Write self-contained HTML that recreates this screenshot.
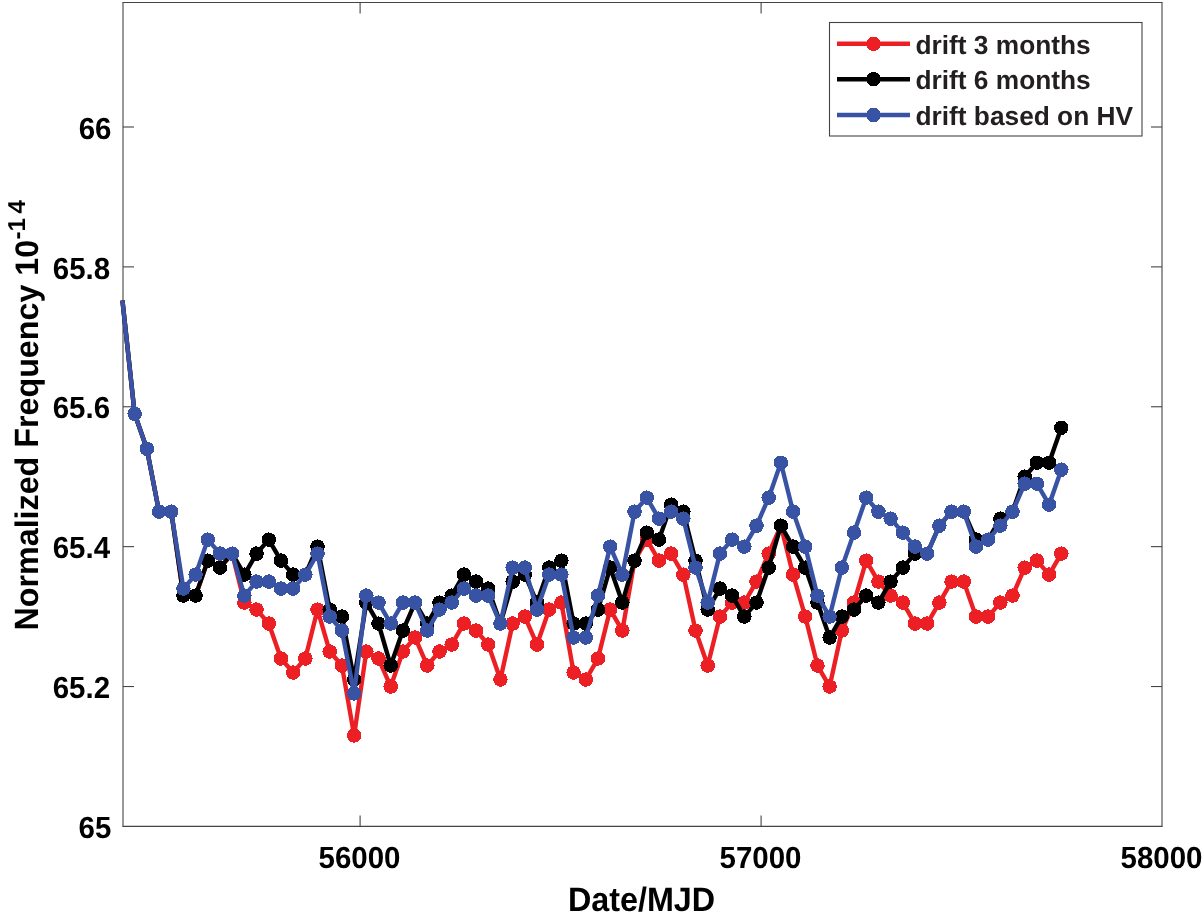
<!DOCTYPE html>
<html><head><meta charset="utf-8"><title>Normalized Frequency vs Date/MJD</title>
<style>
html,body{margin:0;padding:0;background:#fff;}
body{width:1204px;height:920px;overflow:hidden;}
svg{display:block;}
text{font-family:"Liberation Sans",Arial,Helvetica,sans-serif;font-weight:bold;text-rendering:geometricPrecision;}
</style></head><body>
<svg width="1204" height="920" viewBox="0 0 1204 920">
<rect width="1204" height="920" fill="#fff"/>
<g stroke="#444444" stroke-width="1.1" fill="none"><line x1="122.5" y1="2.5" x2="1162.5" y2="2.5"/><line x1="122.5" y1="826.4" x2="1162.5" y2="826.4"/><line x1="123.0" y1="2.5" x2="123.0" y2="826.4"/><line x1="1162.0" y1="2.5" x2="1162.0" y2="826.4"/><line x1="123.0" y1="686.52" x2="134.0" y2="686.52"/><line x1="1162.0" y1="686.52" x2="1151.0" y2="686.52"/><line x1="123.0" y1="546.64" x2="134.0" y2="546.64"/><line x1="1162.0" y1="546.64" x2="1151.0" y2="546.64"/><line x1="123.0" y1="406.76" x2="134.0" y2="406.76"/><line x1="1162.0" y1="406.76" x2="1151.0" y2="406.76"/><line x1="123.0" y1="266.88" x2="134.0" y2="266.88"/><line x1="1162.0" y1="266.88" x2="1151.0" y2="266.88"/><line x1="123.0" y1="127.00" x2="134.0" y2="127.00"/><line x1="1162.0" y1="127.00" x2="1151.0" y2="127.00"/><line x1="360.1" y1="826.4" x2="360.1" y2="815.4"/><line x1="360.1" y1="2.5" x2="360.1" y2="13.5"/><line x1="761.1" y1="826.4" x2="761.1" y2="815.4"/><line x1="761.1" y1="2.5" x2="761.1" y2="13.5"/></g>
<defs><clipPath id="ax"><rect x="118.0" y="2.5" width="1044.0" height="823.9"/></clipPath></defs>
<g clip-path="url(#ax)">
<polyline points="122.45,300.45 134.64,413.75 146.84,448.72 159.03,511.67 171.22,511.67 183.41,595.60 195.61,595.60 207.80,560.63 219.99,567.62 232.19,553.63 244.38,602.59 256.57,609.59 268.77,623.57 280.96,658.54 293.15,672.53 305.34,658.54 317.54,609.59 329.73,651.55 341.92,665.54 354.12,735.48 366.31,651.55 378.50,658.54 390.70,686.52 402.89,651.55 415.08,637.56 427.27,665.54 439.47,651.55 451.66,644.56 463.85,623.57 476.05,630.57 488.24,644.56 500.43,679.53 512.63,623.57 524.82,616.58 537.01,644.56 549.21,609.59 561.40,602.59 573.59,672.53 585.78,679.53 597.98,658.54 610.17,609.59 622.36,630.57 634.56,560.63 646.75,539.65 658.94,560.63 671.13,553.63 683.33,574.62 695.52,630.57 707.71,665.54 719.91,616.58 732.10,602.59 744.29,602.59 756.49,581.61 768.68,553.63 780.87,525.66 793.07,574.62 805.26,616.58 817.45,665.54 829.64,686.52 841.84,630.57 854.03,602.59 866.22,560.63 878.42,581.61 890.61,595.60 902.80,602.59 915.00,623.57 927.19,623.57 939.38,602.59 951.57,581.61 963.77,581.61 975.96,616.58 988.15,616.58 1000.35,602.59 1012.54,595.60 1024.73,567.62 1036.92,560.63 1049.12,574.62 1061.31,553.63" fill="none" stroke="#EC2024" stroke-width="4.4" stroke-linejoin="round"/>
<g fill="#EC2024" shape-rendering="crispEdges"><circle cx="134.64" cy="413.75" r="7.25"/><circle cx="146.84" cy="448.72" r="7.25"/><circle cx="159.03" cy="511.67" r="7.25"/><circle cx="171.22" cy="511.67" r="7.25"/><circle cx="183.41" cy="595.60" r="7.25"/><circle cx="195.61" cy="595.60" r="7.25"/><circle cx="207.80" cy="560.63" r="7.25"/><circle cx="219.99" cy="567.62" r="7.25"/><circle cx="232.19" cy="553.63" r="7.25"/><circle cx="244.38" cy="602.59" r="7.25"/><circle cx="256.57" cy="609.59" r="7.25"/><circle cx="268.77" cy="623.57" r="7.25"/><circle cx="280.96" cy="658.54" r="7.25"/><circle cx="293.15" cy="672.53" r="7.25"/><circle cx="305.34" cy="658.54" r="7.25"/><circle cx="317.54" cy="609.59" r="7.25"/><circle cx="329.73" cy="651.55" r="7.25"/><circle cx="341.92" cy="665.54" r="7.25"/><circle cx="354.12" cy="735.48" r="7.25"/><circle cx="366.31" cy="651.55" r="7.25"/><circle cx="378.50" cy="658.54" r="7.25"/><circle cx="390.70" cy="686.52" r="7.25"/><circle cx="402.89" cy="651.55" r="7.25"/><circle cx="415.08" cy="637.56" r="7.25"/><circle cx="427.27" cy="665.54" r="7.25"/><circle cx="439.47" cy="651.55" r="7.25"/><circle cx="451.66" cy="644.56" r="7.25"/><circle cx="463.85" cy="623.57" r="7.25"/><circle cx="476.05" cy="630.57" r="7.25"/><circle cx="488.24" cy="644.56" r="7.25"/><circle cx="500.43" cy="679.53" r="7.25"/><circle cx="512.63" cy="623.57" r="7.25"/><circle cx="524.82" cy="616.58" r="7.25"/><circle cx="537.01" cy="644.56" r="7.25"/><circle cx="549.21" cy="609.59" r="7.25"/><circle cx="561.40" cy="602.59" r="7.25"/><circle cx="573.59" cy="672.53" r="7.25"/><circle cx="585.78" cy="679.53" r="7.25"/><circle cx="597.98" cy="658.54" r="7.25"/><circle cx="610.17" cy="609.59" r="7.25"/><circle cx="622.36" cy="630.57" r="7.25"/><circle cx="634.56" cy="560.63" r="7.25"/><circle cx="646.75" cy="539.65" r="7.25"/><circle cx="658.94" cy="560.63" r="7.25"/><circle cx="671.13" cy="553.63" r="7.25"/><circle cx="683.33" cy="574.62" r="7.25"/><circle cx="695.52" cy="630.57" r="7.25"/><circle cx="707.71" cy="665.54" r="7.25"/><circle cx="719.91" cy="616.58" r="7.25"/><circle cx="732.10" cy="602.59" r="7.25"/><circle cx="744.29" cy="602.59" r="7.25"/><circle cx="756.49" cy="581.61" r="7.25"/><circle cx="768.68" cy="553.63" r="7.25"/><circle cx="780.87" cy="525.66" r="7.25"/><circle cx="793.07" cy="574.62" r="7.25"/><circle cx="805.26" cy="616.58" r="7.25"/><circle cx="817.45" cy="665.54" r="7.25"/><circle cx="829.64" cy="686.52" r="7.25"/><circle cx="841.84" cy="630.57" r="7.25"/><circle cx="854.03" cy="602.59" r="7.25"/><circle cx="866.22" cy="560.63" r="7.25"/><circle cx="878.42" cy="581.61" r="7.25"/><circle cx="890.61" cy="595.60" r="7.25"/><circle cx="902.80" cy="602.59" r="7.25"/><circle cx="915.00" cy="623.57" r="7.25"/><circle cx="927.19" cy="623.57" r="7.25"/><circle cx="939.38" cy="602.59" r="7.25"/><circle cx="951.57" cy="581.61" r="7.25"/><circle cx="963.77" cy="581.61" r="7.25"/><circle cx="975.96" cy="616.58" r="7.25"/><circle cx="988.15" cy="616.58" r="7.25"/><circle cx="1000.35" cy="602.59" r="7.25"/><circle cx="1012.54" cy="595.60" r="7.25"/><circle cx="1024.73" cy="567.62" r="7.25"/><circle cx="1036.92" cy="560.63" r="7.25"/><circle cx="1049.12" cy="574.62" r="7.25"/><circle cx="1061.31" cy="553.63" r="7.25"/></g>
<polyline points="122.45,300.45 134.64,413.75 146.84,448.72 159.03,511.67 171.22,511.67 183.41,595.60 195.61,595.60 207.80,560.63 219.99,567.62 232.19,553.63 244.38,574.62 256.57,553.63 268.77,539.65 280.96,560.63 293.15,574.62 305.34,574.62 317.54,546.64 329.73,609.59 341.92,616.58 354.12,679.53 366.31,602.59 378.50,623.57 390.70,665.54 402.89,630.57 415.08,602.59 427.27,623.57 439.47,602.59 451.66,595.60 463.85,574.62 476.05,581.61 488.24,588.60 500.43,623.57 512.63,581.61 524.82,574.62 537.01,602.59 549.21,567.62 561.40,560.63 573.59,623.57 585.78,623.57 597.98,609.59 610.17,567.62 622.36,602.59 634.56,560.63 646.75,532.65 658.94,539.65 671.13,504.68 683.33,511.67 695.52,560.63 707.71,609.59 719.91,588.60 732.10,595.60 744.29,616.58 756.49,602.59 768.68,567.62 780.87,525.66 793.07,546.64 805.26,567.62 817.45,602.59 829.64,637.56 841.84,616.58 854.03,609.59 866.22,595.60 878.42,602.59 890.61,581.61 902.80,567.62 915.00,553.63 927.19,553.63 939.38,525.66 951.57,511.67 963.77,511.67 975.96,539.65 988.15,539.65 1000.35,518.66 1012.54,511.67 1024.73,476.70 1036.92,462.71 1049.12,462.71 1061.31,427.74" fill="none" stroke="#000000" stroke-width="4.4" stroke-linejoin="round"/>
<g fill="#000000" shape-rendering="crispEdges"><circle cx="134.64" cy="413.75" r="7.25"/><circle cx="146.84" cy="448.72" r="7.25"/><circle cx="159.03" cy="511.67" r="7.25"/><circle cx="171.22" cy="511.67" r="7.25"/><circle cx="183.41" cy="595.60" r="7.25"/><circle cx="195.61" cy="595.60" r="7.25"/><circle cx="207.80" cy="560.63" r="7.25"/><circle cx="219.99" cy="567.62" r="7.25"/><circle cx="232.19" cy="553.63" r="7.25"/><circle cx="244.38" cy="574.62" r="7.25"/><circle cx="256.57" cy="553.63" r="7.25"/><circle cx="268.77" cy="539.65" r="7.25"/><circle cx="280.96" cy="560.63" r="7.25"/><circle cx="293.15" cy="574.62" r="7.25"/><circle cx="305.34" cy="574.62" r="7.25"/><circle cx="317.54" cy="546.64" r="7.25"/><circle cx="329.73" cy="609.59" r="7.25"/><circle cx="341.92" cy="616.58" r="7.25"/><circle cx="354.12" cy="679.53" r="7.25"/><circle cx="366.31" cy="602.59" r="7.25"/><circle cx="378.50" cy="623.57" r="7.25"/><circle cx="390.70" cy="665.54" r="7.25"/><circle cx="402.89" cy="630.57" r="7.25"/><circle cx="415.08" cy="602.59" r="7.25"/><circle cx="427.27" cy="623.57" r="7.25"/><circle cx="439.47" cy="602.59" r="7.25"/><circle cx="451.66" cy="595.60" r="7.25"/><circle cx="463.85" cy="574.62" r="7.25"/><circle cx="476.05" cy="581.61" r="7.25"/><circle cx="488.24" cy="588.60" r="7.25"/><circle cx="500.43" cy="623.57" r="7.25"/><circle cx="512.63" cy="581.61" r="7.25"/><circle cx="524.82" cy="574.62" r="7.25"/><circle cx="537.01" cy="602.59" r="7.25"/><circle cx="549.21" cy="567.62" r="7.25"/><circle cx="561.40" cy="560.63" r="7.25"/><circle cx="573.59" cy="623.57" r="7.25"/><circle cx="585.78" cy="623.57" r="7.25"/><circle cx="597.98" cy="609.59" r="7.25"/><circle cx="610.17" cy="567.62" r="7.25"/><circle cx="622.36" cy="602.59" r="7.25"/><circle cx="634.56" cy="560.63" r="7.25"/><circle cx="646.75" cy="532.65" r="7.25"/><circle cx="658.94" cy="539.65" r="7.25"/><circle cx="671.13" cy="504.68" r="7.25"/><circle cx="683.33" cy="511.67" r="7.25"/><circle cx="695.52" cy="560.63" r="7.25"/><circle cx="707.71" cy="609.59" r="7.25"/><circle cx="719.91" cy="588.60" r="7.25"/><circle cx="732.10" cy="595.60" r="7.25"/><circle cx="744.29" cy="616.58" r="7.25"/><circle cx="756.49" cy="602.59" r="7.25"/><circle cx="768.68" cy="567.62" r="7.25"/><circle cx="780.87" cy="525.66" r="7.25"/><circle cx="793.07" cy="546.64" r="7.25"/><circle cx="805.26" cy="567.62" r="7.25"/><circle cx="817.45" cy="602.59" r="7.25"/><circle cx="829.64" cy="637.56" r="7.25"/><circle cx="841.84" cy="616.58" r="7.25"/><circle cx="854.03" cy="609.59" r="7.25"/><circle cx="866.22" cy="595.60" r="7.25"/><circle cx="878.42" cy="602.59" r="7.25"/><circle cx="890.61" cy="581.61" r="7.25"/><circle cx="902.80" cy="567.62" r="7.25"/><circle cx="915.00" cy="553.63" r="7.25"/><circle cx="927.19" cy="553.63" r="7.25"/><circle cx="939.38" cy="525.66" r="7.25"/><circle cx="951.57" cy="511.67" r="7.25"/><circle cx="963.77" cy="511.67" r="7.25"/><circle cx="975.96" cy="539.65" r="7.25"/><circle cx="988.15" cy="539.65" r="7.25"/><circle cx="1000.35" cy="518.66" r="7.25"/><circle cx="1012.54" cy="511.67" r="7.25"/><circle cx="1024.73" cy="476.70" r="7.25"/><circle cx="1036.92" cy="462.71" r="7.25"/><circle cx="1049.12" cy="462.71" r="7.25"/><circle cx="1061.31" cy="427.74" r="7.25"/></g>
<polyline points="122.45,300.45 134.64,413.75 146.84,448.72 159.03,511.67 171.22,511.67 183.41,588.60 195.61,574.62 207.80,539.65 219.99,553.63 232.19,553.63 244.38,595.60 256.57,581.61 268.77,581.61 280.96,588.60 293.15,588.60 305.34,574.62 317.54,553.63 329.73,616.58 341.92,630.57 354.12,693.51 366.31,595.60 378.50,602.59 390.70,623.57 402.89,602.59 415.08,602.59 427.27,630.57 439.47,609.59 451.66,602.59 463.85,588.60 476.05,595.60 488.24,595.60 500.43,623.57 512.63,567.62 524.82,567.62 537.01,609.59 549.21,574.62 561.40,574.62 573.59,637.56 585.78,637.56 597.98,595.60 610.17,546.64 622.36,574.62 634.56,511.67 646.75,497.68 658.94,518.66 671.13,511.67 683.33,518.66 695.52,567.62 707.71,602.59 719.91,553.63 732.10,539.65 744.29,546.64 756.49,525.66 768.68,497.68 780.87,462.71 793.07,511.67 805.26,546.64 817.45,595.60 829.64,616.58 841.84,567.62 854.03,532.65 866.22,497.68 878.42,511.67 890.61,518.66 902.80,532.65 915.00,546.64 927.19,553.63 939.38,525.66 951.57,511.67 963.77,511.67 975.96,546.64 988.15,539.65 1000.35,525.66 1012.54,511.67 1024.73,483.69 1036.92,483.69 1049.12,504.68 1061.31,469.71" fill="none" stroke="#3953A4" stroke-width="4.4" stroke-linejoin="round"/>
<g fill="#3953A4" shape-rendering="crispEdges"><circle cx="134.64" cy="413.75" r="7.25"/><circle cx="146.84" cy="448.72" r="7.25"/><circle cx="159.03" cy="511.67" r="7.25"/><circle cx="171.22" cy="511.67" r="7.25"/><circle cx="183.41" cy="588.60" r="7.25"/><circle cx="195.61" cy="574.62" r="7.25"/><circle cx="207.80" cy="539.65" r="7.25"/><circle cx="219.99" cy="553.63" r="7.25"/><circle cx="232.19" cy="553.63" r="7.25"/><circle cx="244.38" cy="595.60" r="7.25"/><circle cx="256.57" cy="581.61" r="7.25"/><circle cx="268.77" cy="581.61" r="7.25"/><circle cx="280.96" cy="588.60" r="7.25"/><circle cx="293.15" cy="588.60" r="7.25"/><circle cx="305.34" cy="574.62" r="7.25"/><circle cx="317.54" cy="553.63" r="7.25"/><circle cx="329.73" cy="616.58" r="7.25"/><circle cx="341.92" cy="630.57" r="7.25"/><circle cx="354.12" cy="693.51" r="7.25"/><circle cx="366.31" cy="595.60" r="7.25"/><circle cx="378.50" cy="602.59" r="7.25"/><circle cx="390.70" cy="623.57" r="7.25"/><circle cx="402.89" cy="602.59" r="7.25"/><circle cx="415.08" cy="602.59" r="7.25"/><circle cx="427.27" cy="630.57" r="7.25"/><circle cx="439.47" cy="609.59" r="7.25"/><circle cx="451.66" cy="602.59" r="7.25"/><circle cx="463.85" cy="588.60" r="7.25"/><circle cx="476.05" cy="595.60" r="7.25"/><circle cx="488.24" cy="595.60" r="7.25"/><circle cx="500.43" cy="623.57" r="7.25"/><circle cx="512.63" cy="567.62" r="7.25"/><circle cx="524.82" cy="567.62" r="7.25"/><circle cx="537.01" cy="609.59" r="7.25"/><circle cx="549.21" cy="574.62" r="7.25"/><circle cx="561.40" cy="574.62" r="7.25"/><circle cx="573.59" cy="637.56" r="7.25"/><circle cx="585.78" cy="637.56" r="7.25"/><circle cx="597.98" cy="595.60" r="7.25"/><circle cx="610.17" cy="546.64" r="7.25"/><circle cx="622.36" cy="574.62" r="7.25"/><circle cx="634.56" cy="511.67" r="7.25"/><circle cx="646.75" cy="497.68" r="7.25"/><circle cx="658.94" cy="518.66" r="7.25"/><circle cx="671.13" cy="511.67" r="7.25"/><circle cx="683.33" cy="518.66" r="7.25"/><circle cx="695.52" cy="567.62" r="7.25"/><circle cx="707.71" cy="602.59" r="7.25"/><circle cx="719.91" cy="553.63" r="7.25"/><circle cx="732.10" cy="539.65" r="7.25"/><circle cx="744.29" cy="546.64" r="7.25"/><circle cx="756.49" cy="525.66" r="7.25"/><circle cx="768.68" cy="497.68" r="7.25"/><circle cx="780.87" cy="462.71" r="7.25"/><circle cx="793.07" cy="511.67" r="7.25"/><circle cx="805.26" cy="546.64" r="7.25"/><circle cx="817.45" cy="595.60" r="7.25"/><circle cx="829.64" cy="616.58" r="7.25"/><circle cx="841.84" cy="567.62" r="7.25"/><circle cx="854.03" cy="532.65" r="7.25"/><circle cx="866.22" cy="497.68" r="7.25"/><circle cx="878.42" cy="511.67" r="7.25"/><circle cx="890.61" cy="518.66" r="7.25"/><circle cx="902.80" cy="532.65" r="7.25"/><circle cx="915.00" cy="546.64" r="7.25"/><circle cx="927.19" cy="553.63" r="7.25"/><circle cx="939.38" cy="525.66" r="7.25"/><circle cx="951.57" cy="511.67" r="7.25"/><circle cx="963.77" cy="511.67" r="7.25"/><circle cx="975.96" cy="546.64" r="7.25"/><circle cx="988.15" cy="539.65" r="7.25"/><circle cx="1000.35" cy="525.66" r="7.25"/><circle cx="1012.54" cy="511.67" r="7.25"/><circle cx="1024.73" cy="483.69" r="7.25"/><circle cx="1036.92" cy="483.69" r="7.25"/><circle cx="1049.12" cy="504.68" r="7.25"/><circle cx="1061.31" cy="469.71" r="7.25"/></g>
</g>
<text transform="translate(78.62,837.80) scale(1,1.035)" font-size="29.5" text-anchor="start" fill="#000">65</text><text transform="translate(52.67,697.92) scale(1,1.035)" font-size="29.5" text-anchor="start" fill="#000">65.2</text><text transform="translate(52.67,557.94) scale(1,1.035)" font-size="29.5" text-anchor="start" fill="#000">65.4</text><text transform="translate(52.67,418.46) scale(1,1.035)" font-size="29.5" text-anchor="start" fill="#000">65.6</text><text transform="translate(52.72,278.68) scale(1,1.035)" font-size="29.5" text-anchor="start" fill="#000">65.8</text><text transform="translate(78.69,138.60) scale(1,1.035)" font-size="29.5" text-anchor="start" fill="#000">66</text><text transform="translate(359.50,867.70) scale(1,1.035)" font-size="29.5" text-anchor="middle" fill="#000">56000</text><text transform="translate(760.50,867.70) scale(1,1.035)" font-size="29.5" text-anchor="middle" fill="#000">57000</text><text transform="translate(1161.50,867.70) scale(1,1.035)" font-size="29.5" text-anchor="middle" fill="#000">58000</text>
<text transform="translate(641.55,910.60) scale(1,1.045)" font-size="32.3" text-anchor="middle" fill="#000">Date/MJD</text>
<g transform="translate(37.9,628.3) rotate(-90) scale(1,1.01)" fill="#000"><text transform="scale(1,1.035)" x="-2.2" y="0" font-size="32.25">N</text><text x="21.08" y="0" font-size="32.25">ormalized </text><text transform="scale(1,1.035)" x="180.58" y="0" font-size="32.25">F</text><text x="200.28" y="0" font-size="32.25">requency 10</text><text x="388.7" y="-13.2" font-size="24.2">-</text><text x="396.9" y="-13.2" font-size="24.2">1</text><text x="414.8" y="-13.2" font-size="24.2">4</text></g>
<rect x="829.5" y="22.5" width="312.5" height="113.5" fill="#fff" stroke="#444444" stroke-width="1.1"/>
<line x1="837" y1="43.8" x2="910" y2="43.8" stroke="#EC2024" stroke-width="4.4"/><circle cx="873.5" cy="43.8" r="7.25" fill="#EC2024" shape-rendering="crispEdges"/><text x="915.4" y="53.7" font-size="26.3" fill="#231F20">drift 3 months</text>
<line x1="837" y1="79.2" x2="910" y2="79.2" stroke="#000000" stroke-width="4.4"/><circle cx="873.5" cy="79.2" r="7.25" fill="#000000" shape-rendering="crispEdges"/><text x="915.4" y="89.1" font-size="26.3" fill="#231F20">drift 6 months</text>
<line x1="837" y1="115.0" x2="910" y2="115.0" stroke="#3953A4" stroke-width="4.4"/><circle cx="873.5" cy="115.0" r="7.25" fill="#3953A4" shape-rendering="crispEdges"/><text x="915.4" y="124.9" font-size="26.3" fill="#231F20">drift based on HV</text>
</svg>
</body></html>
